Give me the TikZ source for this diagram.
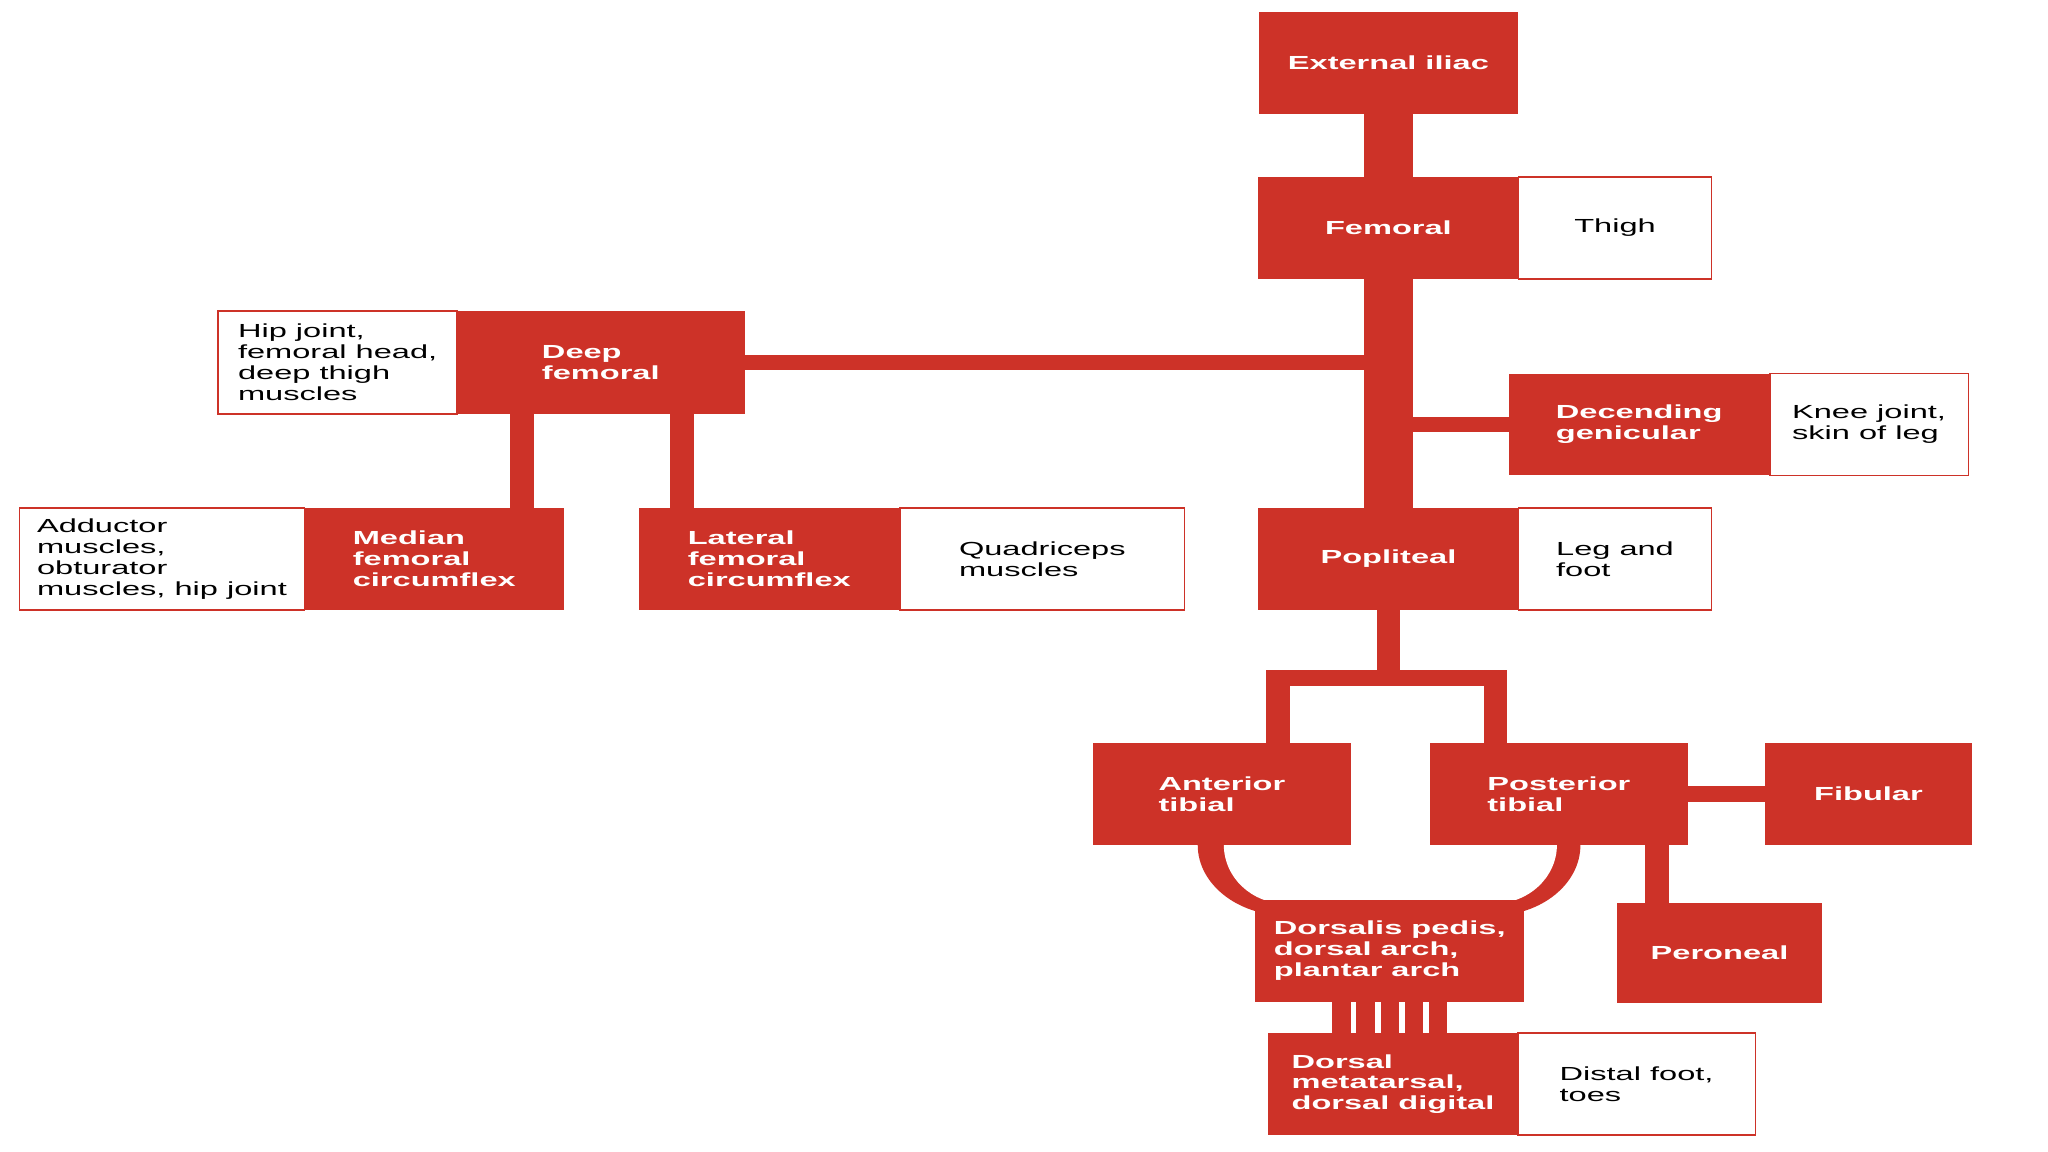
\documentclass[tikz,border=0pt]{standalone}
\usepackage{fontspec}
\usepackage{tikz}
\usetikzlibrary{positioning,calc,backgrounds}
\newfontfamily\regfont{Liberation Sans}[FakeStretch=1.72]
\definecolor{artred}{RGB}{205,50,40}
\tikzset{art/.style={fill=artred,text=white,align=left,minimum height=78pt,inner sep=0pt,outer sep=0pt,font=\regfont\bfseries\fontsize{14.5}{16}\selectfont},
  reg/.style={art,fill=white,draw=artred,line width=1.2pt,text=black,font=\regfont\fontsize{14.5}{16}\selectfont},
  trunk/.style={artred,line width=38pt},
  vline/.style={artred,line width=18pt},
  hline/.style={artred,line width=12pt},
  toe/.style={artred,line width=14pt}}

\begin{document}
\begin{tikzpicture}[x=1pt,y=1pt]
\useasboundingbox (0,0) rectangle (1568,882);
% main chain
\node[art,minimum width=198pt] (ext) at (1063,834) {External iliac};
\node[art,minimum width=199pt] (fem) at (1063,707.5) {Femoral};
\node[reg,minimum width=148pt,right=0pt of fem] (thigh) {Thigh};
\node[art,minimum width=199pt] (pop) at (1063,454) {Popliteal};
\node[reg,minimum width=148pt,right=0pt of pop] (legfoot) {Leg and\\foot};
\node[art,minimum width=200pt] (gen) at (1255,557) {Decending\\genicular};
\node[reg,minimum width=152pt,right=0pt of gen] (knee) {Knee joint,\\skin of leg};
% deep femoral side
\node[art,minimum width=220pt,minimum height=79pt] (deep) at (460,604.5) {Deep\\femoral};
\node[reg,minimum width=183pt,minimum height=79pt,left=0pt of deep] (hip) {Hip joint,\\femoral head,\\deep thigh\\muscles};
\node[art,minimum width=199pt] (med) at (332.5,454) {Median\\femoral\\circumflex};
\node[reg,minimum width=218pt,left=0pt of med] (addu) {Adductor\\muscles,\\obturator\\muscles, hip joint};
\node[art,minimum width=200pt] (lat) at (589,454) {Lateral\\femoral\\circumflex};
\node[reg,minimum width=218pt,right=0pt of lat] (quad) {Quadriceps\\muscles};
% leg and foot
\node[art,minimum width=197pt] (ant) at (935.5,274) {Anterior\\tibial};
\node[art,minimum width=197pt] (post) at (1193.5,274) {Posterior\\tibial};
\node[art,minimum width=159pt] (fib) at (1430.5,274) {Fibular};
\node[art,minimum width=157pt,minimum height=77pt] (per) at (1316.5,152.5) {Peroneal};
\node[art,minimum width=206pt] (dors) at (1064,154) {Dorsalis pedis,\\dorsal arch,\\plantar arch};
\node[art,minimum width=191pt] (dmeta) at (1066.5,52) {Dorsal\\metatarsal,\\dorsal digital};
\node[reg,minimum width=182pt,right=0pt of dmeta] (distal) {Distal foot,\\toes};

\begin{scope}[on background layer]
\draw[trunk] (ext.south) -- (fem.north);
\draw[trunk] (fem.south) -- (pop.north);
\draw[hline] (deep.east) -- (deep.east -| fem.south);
\draw[hline] (gen.west) -- (gen.west -| fem.south);
% branches of the deep femoral
\coordinate (dl) at ($(deep.south west)+(49.5,0)$);
\coordinate (dr) at ($(deep.south east)+(-48,0)$);
\draw[vline] (dl) -- (dl |- med.north);
\draw[vline] (dr) -- (dr |- lat.north);
% popliteal fork
\coordinate (fork) at ($(pop.south)+(0,-52)$);
\coordinate (al) at ($(ant.north east)+(-55.5,0)$);
\coordinate (pr) at ($(post.north west)+(50,0)$);
\draw[vline] (pop.south) -- (fork);
\draw[hline] ($(fork -| al)+(-9,0)$) -- ($(fork -| pr)+(9,0)$);
\draw[vline] (al) -- ($(fork -| al)+(0,6)$);
\draw[vline] (pr) -- ($(fork -| pr)+(0,6)$);
\draw[hline] (post.east) -- (fib.west);
\coordinate (pv) at ($(post.south east)+(-23.5,0)$);
\draw[vline] (pv) -- (pv |- per.north);
% arch into the foot
\fill[artred] ($(ant.south)+(-18.5,0)$) arc[start angle=180,end angle=270,x radius=68,y radius=54]
  -- ($(post.south)+(-50.5,-54)$) arc[start angle=270,end angle=360,x radius=67,y radius=54] -- cycle;
\fill[white] ($(ant.south)+(1.5,0)$) arc[start angle=180,end angle=270,x radius=48,y radius=45]
  -- ($(post.south)+(-50.5,-45)$) arc[start angle=270,end angle=360,x radius=49,y radius=45] -- cycle;
\foreach \i in {-2,...,2}{
  \coordinate (t) at ($(dors.south)+(\i*18.5,0)$);
  \draw[toe] (t) -- (t |- dmeta.north);
}
\end{scope}
\end{tikzpicture}
\end{document}
